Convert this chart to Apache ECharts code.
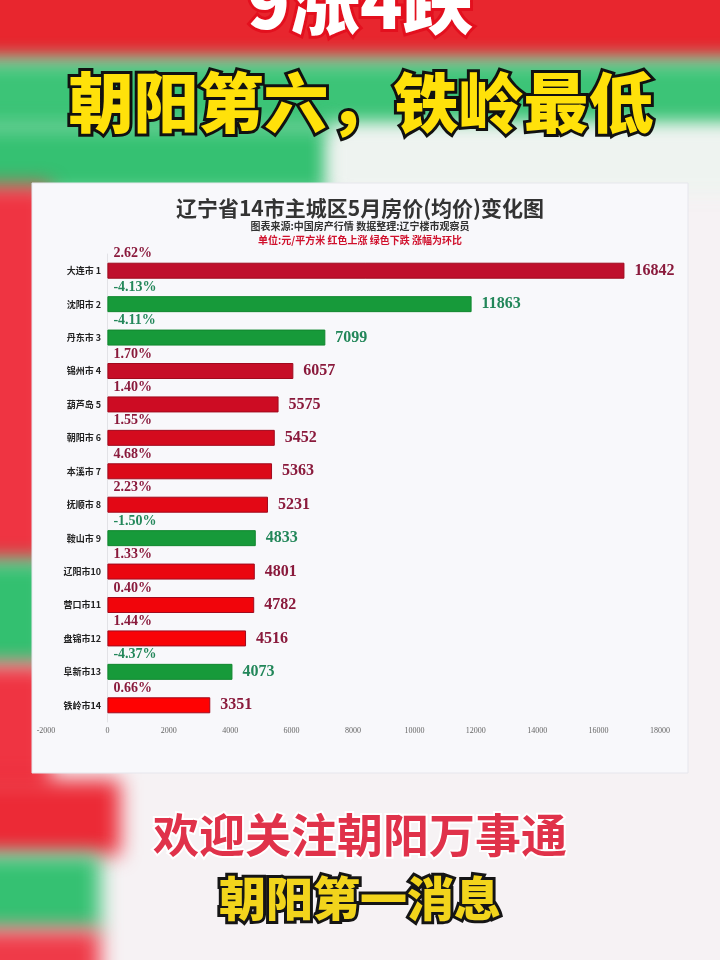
<!DOCTYPE html>
<html>
<head>
<meta charset="utf-8">
<script src="https://cdn.jsdelivr.net/npm/echarts@6/dist/echarts.min.js"></script>
<style>
html,body{margin:0;padding:0;width:720px;height:960px;overflow:hidden;background:#f6f2f4;}
#bg{position:absolute;left:0;top:0;width:720px;height:960px;overflow:hidden;}
#bg div{position:absolute;filter:blur(10px);}
#chart{position:absolute;left:0;top:0;width:720px;height:960px;}
</style>
</head>
<body>
<div id="bg">
  <div style="left:-30px;top:-30px;width:780px;height:92px;background:#e8262e;"></div>
  <div style="left:-30px;top:60px;width:780px;height:70px;background:#3cc477;"></div>
  <div style="left:-30px;top:125px;width:360px;height:70px;background:#35c172;"></div>
  <div style="left:330px;top:125px;width:420px;height:70px;background:#eef3f0;"></div>
  <div style="left:-30px;top:185px;width:80px;height:380px;background:#ef3442;"></div>
  <div style="left:-30px;top:560px;width:80px;height:105px;background:#33c070;"></div>
  <div style="left:-30px;top:665px;width:80px;height:130px;background:#ef3442;"></div>
  <div style="left:-30px;top:780px;width:150px;height:75px;background:#ec2a36;"></div>
  <div style="left:-30px;top:855px;width:130px;height:75px;background:#35c172;"></div>
  <div style="left:-30px;top:930px;width:130px;height:60px;background:#ef3a48;"></div>
</div>
<div id="chart"></div>
<script>
// ---- data ----
const cities = ['大连市 1','沈阳市 2','丹东市 3','锦州市 4','葫芦岛 5','朝阳市 6','本溪市 7','抚顺市 8','鞍山市 9','辽阳市10','营口市11','盘锦市12','阜新市13','铁岭市14'];
const prices = [16842, 11863, 7099, 6057, 5575, 5452, 5363, 5231, 4833, 4801, 4782, 4516, 4073, 3351];
const changes = [2.62, -4.13, -4.11, 1.70, 1.40, 1.55, 4.68, 2.23, -1.50, 1.33, 0.40, 1.44, -4.37, 0.66];
const xMin = -2000, xMax = 18000, xStep = 2000;

const titleText = '辽宁省14市主城区5月房价(均价)变化图';
const subText1 = '图表来源:中国房产行情 数据整理:辽宁楼市观察员';
const subText2 = '单位:元/平方米 红色上涨 绿色下跌 涨幅为环比';
const headTop = '9涨4跌';
const headMain = '朝阳第六，铁岭最低';
const footRed = '欢迎关注朝阳万事通';
const footYellow = '朝阳第一消息';

// ---- styling helpers ----
function lerpColor(a, b, t) {
  const pa = [parseInt(a.slice(1,3),16), parseInt(a.slice(3,5),16), parseInt(a.slice(5,7),16)];
  const pb = [parseInt(b.slice(1,3),16), parseInt(b.slice(3,5),16), parseInt(b.slice(5,7),16)];
  return 'rgb(' + pa.map((v,i)=>Math.round(v+(pb[i]-v)*t)).join(',') + ')';
}
const upIdx = [];
changes.forEach((c,i)=>{ if (c >= 0) upIdx.push(i); });
function barColor(i) {
  if (changes[i] < 0) return '#179a3a';
  const r = upIdx.indexOf(i) / (upIdx.length - 1);
  return lerpColor('#bf0f2c', '#ff0202', r);
}
function barBorder(i) {
  return changes[i] < 0 ? '#11872f' : '#a00a1e';
}
const upText = '#8a1a3c', downText = '#23875a';

const barData = prices.map((v,i)=>({
  value: v,
  itemStyle: { color: barColor(i), borderColor: barBorder(i), borderWidth: 1 },
  label: { color: changes[i] < 0 ? downText : upText }
}));
const pctData = prices.map((v,i)=>({
  value: v,
  label: { color: changes[i] < 0 ? downText : upText,
           formatter: changes[i].toFixed(2) + '%' }
}));

const chart = echarts.init(document.getElementById('chart'), null, {renderer:'canvas'});
const cjk = '"Noto Sans CJK SC", sans-serif';
const serif = '"Liberation Serif", "DejaVu Serif", serif';

chart.setOption({
  backgroundColor: 'transparent',
  animation: false,
  grid: { left: 46, right: 60, top: 254, bottom: 238, containLabel: false },
  xAxis: {
    type: 'value', min: xMin, max: xMax, interval: xStep,
    axisLine: { show: false }, axisTick: { show: false },
    splitLine: { show: false },
    axisLabel: { fontSize: 8, color: '#666', margin: 5, fontFamily: serif, formatter: v => String(v) }
  },
  yAxis: {
    type: 'category', data: cities, inverse: true, offset: -61,
    axisLine: { show: true, onZero: false, lineStyle: { color: '#e2e2e6' } },
    axisTick: { show: false },
    axisLabel: { fontSize: 9, fontWeight: 'bold', color: '#222', margin: 6, fontFamily: cjk }
  },
  graphic: [
    { type: 'rect', z: -10, shape: { x: 32, y: 183, width: 656, height: 590 },
      style: { fill: '#f8f8fb', stroke: '#e6e6ec', lineWidth: 1 } },
    { type: 'text', z: 10, style: { text: headTop, x: 360, y: 2, textAlign: 'center', textVerticalAlign: 'middle',
      fontSize: 70, fontWeight: 900, fontFamily: cjk, fill: '#ffffff', stroke: '#e3101e', lineWidth: 6 } },
    { type: 'text', z: 10, style: { text: headMain, x: 361, y: 102, textAlign: 'center', textVerticalAlign: 'middle',
      fontSize: 65, fontWeight: 900, fontFamily: cjk, fill: '#ffe10a', stroke: '#111111', lineWidth: 6 } },
    { type: 'text', z: 10, style: { text: titleText, x: 360, y: 208, textAlign: 'center', textVerticalAlign: 'middle',
      fontSize: 21, fontWeight: 'bold', fontFamily: cjk, fill: '#333333' } },
    { type: 'text', z: 10, style: { text: subText1, x: 360, y: 226, textAlign: 'center', textVerticalAlign: 'middle',
      fontSize: 10, fontWeight: 'bold', fontFamily: cjk, fill: '#333333' } },
    { type: 'text', z: 10, style: { text: subText2, x: 360, y: 240, textAlign: 'center', textVerticalAlign: 'middle',
      fontSize: 10, fontWeight: 'bold', fontFamily: cjk, fill: '#d0102c' } },
    { type: 'text', z: 10, style: { text: footRed, x: 360, y: 835, textAlign: 'center', textVerticalAlign: 'middle',
      fontSize: 46, fontWeight: 'bold', fontFamily: cjk, fill: '#e0324a', stroke: '#ffffff', lineWidth: 4 } },
    { type: 'text', z: 10, style: { text: footYellow, x: 360, y: 898, textAlign: 'center', textVerticalAlign: 'middle',
      fontSize: 47, fontWeight: 900, fontFamily: cjk, fill: '#f2d41c', stroke: '#151515', lineWidth: 6 } }
  ],
  series: [
    {
      type: 'bar', data: barData, barWidth: 16, z: 3,
      label: { show: true, position: 'right', distance: 10, fontSize: 16, fontWeight: 'bold', fontFamily: serif }
    },
    {
      type: 'bar', data: pctData, barWidth: 16, barGap: '-100%', silent: true, z: 4,
      itemStyle: { color: 'rgba(0,0,0,0)' },
      label: { show: true, position: [6, -9], align: 'left', verticalAlign: 'middle',
               fontSize: 14, fontWeight: 'bold', fontFamily: serif }
    }
  ]
});
</script>
</body>
</html>
